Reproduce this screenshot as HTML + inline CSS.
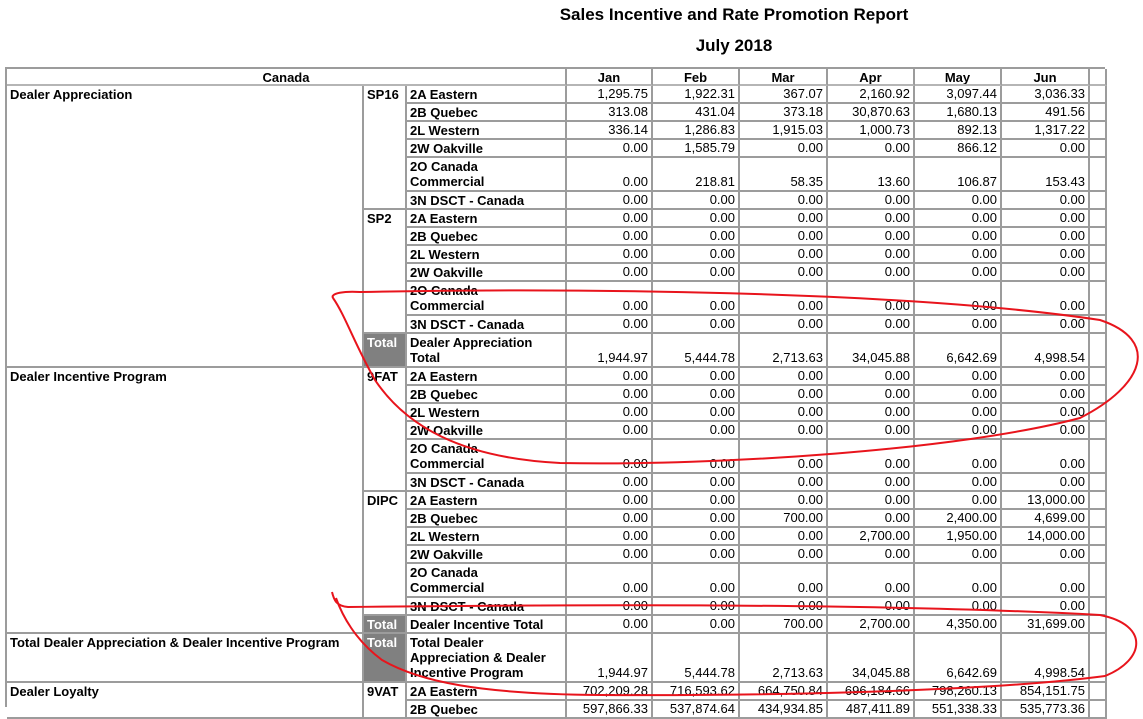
<!DOCTYPE html>
<html><head><meta charset="utf-8">
<style>
body{margin:0;width:1143px;height:707px;overflow:hidden;background:#fff;font-family:"Liberation Sans",Arial,sans-serif;position:relative}
.t{position:absolute;left:0;width:1468px;text-align:center;font-weight:bold;font-size:17px;color:#000}
.c{position:absolute;box-sizing:border-box;border-right:2px solid #9c9c9c;border-bottom:2px solid #9c9c9c;font-size:13px;line-height:15px;color:#000;overflow:hidden}
.lab{font-weight:bold;padding:1px 3px}
.num{display:flex;align-items:flex-end;justify-content:flex-end;padding:0 3px 1px 0}
.hd{font-weight:bold;text-align:center;padding-top:1px;border-bottom-color:#b5b5b5}
.tot{background:#808080;color:#fff;font-weight:bold;padding:1px 3px}
</style></head>
<body>
<div class="t" style="top:5px;left:0;width:1468px">Sales Incentive and Rate Promotion Report</div>
<div class="t" style="top:36px;left:0;width:1468px">July 2018</div>
<div id="grid" style="position:absolute;left:5px;top:67px;width:1100px;height:640px;border-left:2px solid #9c9c9c;border-top:2px solid #9c9c9c;box-sizing:border-box"></div>
<svg style="position:absolute;left:0;top:0" width="1143" height="707">
<path d="M333,298 C330,293 345,291 360,292 C560,288 900,290 1100,320 C1160,340 1145,385 1080,418 C960,450 720,466 560,463 C460,458 405,425 375,380 C355,345 345,315 333,298" fill="none" stroke="#e8141c" stroke-width="2"/>
<path d="M332,592 C334,600 336,606 348,607 C600,604 900,604 1100,615 C1150,625 1145,660 1105,676 C1000,690 800,696 600,695 C480,694 420,682 382,660 C355,640 342,615 336,598" fill="none" stroke="#e8141c" stroke-width="2"/>
</svg>
<script>
const months=["Jan","Feb","Mar","Apr","May","Jun"];
const regions=["2A Eastern","2B Quebec","2L Western","2W Oakville","2O Canada Commercial","3N DSCT - Canada"];
const z=[0,0,0,0,0,0];
const sp16=[[1295.75,1922.31,367.07,2160.92,3097.44,3036.33],[313.08,431.04,373.18,30870.63,1680.13,491.56],[336.14,1286.83,1915.03,1000.73,892.13,1317.22],[0,1585.79,0,0,866.12,0],[0,218.81,58.35,13.60,106.87,153.43],z];
const sp2=[z,z,z,z,z,z];
const daTotal=[1944.97,5444.78,2713.63,34045.88,6642.69,4998.54];
const fat9=[z,z,z,z,z,z];
const dipc=[[0,0,0,0,0,13000],[0,0,700,0,2400,4699],[0,0,0,2700,1950,14000],z,z,z];
const diTotal=[0,0,700,2700,4350,31699];
const grandTotal=[1944.97,5444.78,2713.63,34045.88,6642.69,4998.54];
const vat9=[[702209.28,716593.62,664750.84,696184.66,798260.13,854151.75],[597866.33,537874.64,434934.85,487411.89,551338.33,535773.36]];

const X=[0,357,400,560,646,733,821,908,995,1083,1100];
const g=document.getElementById('grid');
function cell(x0,x1,y,h,cls,html){
  const d=document.createElement('div');
  d.className='c '+cls;
  d.style.left=X[x0]+'px';d.style.width=(X[x1]-X[x0])+'px';
  d.style.top=y+'px';d.style.height=h+'px';
  if(html!==undefined)d.innerHTML=html;
  g.appendChild(d);return d;
}
function fmt(v){return v.toLocaleString('en-US',{minimumFractionDigits:2,maximumFractionDigits:2});}
let y=0;
let h=cell(0,3,y,17,'hd','Canada');


months.forEach((m,i)=>{const c=cell(3+i,4+i,y,17,'hd',m);

});
const e=cell(9,10,y,17,'hd','');


y=17;
function dataRow(label,vals,hgt){
  const l=cell(2,3,y,hgt,'lab',label);
  
  
  vals.forEach((v,i)=>{const c=cell(3+i,4+i,y,hgt,'num',fmt(v));
  
  });
  const x=cell(9,10,y,hgt,'','');
  
  
  y+=hgt;
}
function sub(code,rows){
  const y0=y;
  rows.forEach((r,i)=>dataRow(regions[i].replace('2O Canada ','2O Canada<br>'),r,i==4?34:18));
  const s=cell(1,2,y0,y-y0,'lab',code);
  
  
}
function group(name,fn){
  const y0=y;fn();
  const c=cell(0,1,y0,y-y0,'lab',name);
  
  
}
function totalRow(label,vals,hgt){
  const t=cell(1,2,y,hgt,'tot','Total');
  
  
  dataRow(label,vals,hgt);
}
group('Dealer Appreciation',()=>{sub('SP16',sp16);sub('SP2',sp2);totalRow('Dealer Appreciation<br>Total',daTotal,34);});
group('Dealer Incentive Program',()=>{sub('9FAT',fat9);sub('DIPC',dipc);totalRow('Dealer Incentive Total',diTotal,18);});
group('Total Dealer Appreciation &amp; Dealer Incentive Program',()=>{totalRow('Total Dealer<br>Appreciation &amp; Dealer<br>Incentive Program',grandTotal,49);});
group('Dealer Loyalty',()=>{const y0=y;dataRow('2A Eastern',vat9[0],18);dataRow('2B Quebec',vat9[1],18);
  const s=cell(1,2,y0,y-y0,'lab','9VAT');
  
  });
</script>
</body></html>
